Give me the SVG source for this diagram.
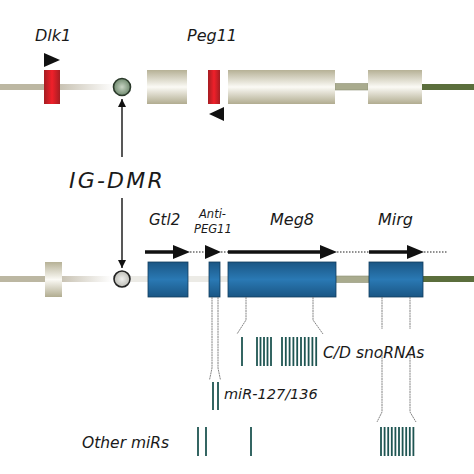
<svg xmlns="http://www.w3.org/2000/svg" width="474" height="474" viewBox="0 0 474 474">
<defs>
<linearGradient id="gray" x1="0" y1="0" x2="0" y2="1">
<stop offset="0" stop-color="#b6b196"/><stop offset="0.5" stop-color="#fbfaf5"/><stop offset="1" stop-color="#b1ac90"/>
</linearGradient>
<linearGradient id="red" x1="0" y1="0" x2="1" y2="0">
<stop offset="0" stop-color="#a51d22"/><stop offset="0.5" stop-color="#f0202a"/><stop offset="1" stop-color="#a51d22"/>
</linearGradient>
<linearGradient id="blue" x1="0" y1="0" x2="0" y2="1">
<stop offset="0" stop-color="#1a5684"/><stop offset="0.5" stop-color="#2a79b4"/><stop offset="1" stop-color="#1a5684"/>
</linearGradient>
<linearGradient id="fadeR" x1="0" y1="0" x2="1" y2="0">
<stop offset="0" stop-color="#c9c3b4"/><stop offset="1" stop-color="#c9c3b4" stop-opacity="0"/>
</linearGradient>
<radialGradient id="dot1"><stop offset="0" stop-color="#c8d4c4"/><stop offset="1" stop-color="#6f8a6e"/></radialGradient>
<radialGradient id="dot2"><stop offset="0" stop-color="#f0f0ee"/><stop offset="1" stop-color="#bdbdb6"/></radialGradient>
<marker id="ah" viewBox="0 0 10 10" refX="10" refY="5" markerWidth="8" markerHeight="10" markerUnits="userSpaceOnUse" orient="auto">
<path d="M0,0 L10,5 L0,10 Z" fill="#111"/>
</marker>
<style>
.lbl{font-family:"DejaVu Sans","Verdana",sans-serif;font-style:italic;fill:#1a1a1a}
.gbox{fill:url(#gray)}
.rbox{fill:url(#red)}
.bbox{fill:url(#blue);stroke:#123e5e;stroke-width:0.8}
.bar{stroke:#1e5552;stroke-width:1.8}
.thin{stroke:#777;stroke-width:0.9;fill:none;stroke-dasharray:2 0.6}
.tri{fill:#111}
.dots{stroke:#222;stroke-width:1.2;stroke-dasharray:1.5 1.5}
.arr{stroke:#111;stroke-width:3.5}
</style>
</defs>
<rect width="474" height="474" fill="#ffffff"/>

<g id="top-track">
<rect x="0" y="84" width="44" height="6" fill="#bcb7a2"/>
<rect x="60" y="84" width="55" height="6" fill="url(#fadeR)"/>
<rect x="335" y="83.5" width="33" height="6.5" fill="#a9ab8e" stroke="#8e9276" stroke-width="0.6"/>
<rect x="422" y="84" width="52" height="6" fill="#5b6e3c"/>
</g>

<g id="dlk1">
<rect class="rbox" x="44" y="70" width="16" height="34"/>
<path class="tri" d="M44,53 L60,60 L44,67 Z"/>
<text class="lbl" x="35" y="41" font-size="16">Dlk1</text>
</g>

<g id="top-gray1"><rect class="gbox" x="147" y="70" width="40" height="34"/></g>

<g id="peg11">
<rect class="rbox" x="208" y="70" width="12" height="34"/>
<path class="tri" d="M224,107 L209,114 L224,121 Z"/>
<text class="lbl" x="187" y="41" font-size="16">Peg11</text>
</g>

<g id="top-gray2"><rect class="gbox" x="228" y="70" width="107" height="34"/></g>
<g id="top-gray3"><rect class="gbox" x="368" y="70" width="54" height="34"/></g>

<g id="top-dmr"><circle cx="122" cy="87" r="8.5" fill="url(#dot1)" stroke="#2b3a2b" stroke-width="1.6"/></g>

<g id="ig-dmr"><text class="lbl" x="69" y="188" font-size="22" letter-spacing="2.2">IG-DMR</text></g>

<g id="bottom-track">
<rect x="0" y="276" width="45" height="6" fill="#bcb7a2"/>
<rect class="gbox" x="45" y="262" width="17" height="35"/>
<rect x="62" y="276" width="50" height="6" fill="url(#fadeR)"/>
<rect x="131" y="276" width="17" height="6" fill="#ecebe6"/>
<rect x="188" y="276" width="21" height="6" fill="#ecebe6"/>
<rect x="220" y="276" width="8" height="6" fill="#ecebe6"/>
<rect x="336" y="276" width="33" height="6.5" fill="#a9ab8e" stroke="#8e9276" stroke-width="0.6"/>
<rect x="423" y="276" width="51" height="6" fill="#5b6e3c"/>
</g>

<g id="bottom-dmr"><circle cx="122" cy="279" r="8" fill="url(#dot2)" stroke="#222" stroke-width="1.6"/></g>

<g id="gtl2">
<rect class="bbox" x="148" y="262" width="40" height="35"/>
<text class="lbl" x="149" y="225" font-size="15">Gtl2</text>
</g>
<g id="anti-peg11">
<rect class="bbox" x="209" y="262" width="11" height="35"/>
<text class="lbl" x="199" y="218" font-size="11.5">Anti-</text>
<text class="lbl" x="194" y="233" font-size="11.5">PEG11</text>
</g>
<g id="meg8">
<rect class="bbox" x="228" y="262" width="108" height="35"/>
<text class="lbl" x="270" y="225" font-size="16">Meg8</text>
</g>
<g id="mirg">
<rect class="bbox" x="369" y="262" width="54" height="35"/>
<text class="lbl" x="378" y="225" font-size="16">Mirg</text>
</g>

<g id="cd-snornas">
<g class="bar">
<line x1="242" y1="337" x2="242" y2="366"/>
<line x1="257" y1="337" x2="257" y2="366"/><line x1="260.5" y1="337" x2="260.5" y2="366"/><line x1="264" y1="337" x2="264" y2="366"/><line x1="267.5" y1="337" x2="267.5" y2="366"/><line x1="271" y1="337" x2="271" y2="366"/>
<line x1="282" y1="337" x2="282" y2="366"/><line x1="285.8" y1="337" x2="285.8" y2="366"/><line x1="289.6" y1="337" x2="289.6" y2="366"/><line x1="293.4" y1="337" x2="293.4" y2="366"/><line x1="297.2" y1="337" x2="297.2" y2="366"/><line x1="301" y1="337" x2="301" y2="366"/><line x1="304.8" y1="337" x2="304.8" y2="366"/><line x1="308.6" y1="337" x2="308.6" y2="366"/><line x1="312.4" y1="337" x2="312.4" y2="366"/><line x1="316.2" y1="337" x2="316.2" y2="366"/>
</g>
<text class="lbl" x="323" y="358" font-size="15.5">C/D snoRNAs</text>
</g>

<g id="mir-127-136">
<line class="bar" x1="213" y1="382" x2="213" y2="410"/>
<line class="bar" x1="218" y1="382" x2="218" y2="410"/>
<text class="lbl" x="224" y="399" font-size="14.5">miR-127/136</text>
</g>

<g id="other-mirs">
<text class="lbl" x="82" y="448" font-size="15.5">Other miRs</text>
<line class="bar" x1="198" y1="427" x2="198" y2="456"/>
<line class="bar" x1="206" y1="427" x2="206" y2="456"/>
<line class="bar" x1="251" y1="427" x2="251" y2="456"/>
</g>

<g id="mirg-cluster" class="bar">
<line x1="381" y1="427" x2="381" y2="456"/><line x1="384.6" y1="427" x2="384.6" y2="456"/><line x1="388.2" y1="427" x2="388.2" y2="456"/><line x1="391.8" y1="427" x2="391.8" y2="456"/><line x1="395.4" y1="427" x2="395.4" y2="456"/><line x1="399" y1="427" x2="399" y2="456"/><line x1="402.6" y1="427" x2="402.6" y2="456"/><line x1="406.2" y1="427" x2="406.2" y2="456"/><line x1="409.8" y1="427" x2="409.8" y2="456"/><line x1="413.4" y1="427" x2="413.4" y2="456"/>
</g>

<g id="connectors">
<line x1="122" y1="157" x2="122" y2="99" stroke="#111" stroke-width="1.4" marker-end="url(#ah)"/>
<line x1="122" y1="198" x2="122" y2="268" stroke="#111" stroke-width="1.4" marker-end="url(#ah)"/>
<line class="arr" x1="145" y1="252" x2="175" y2="252"/><path class="tri" d="M173,245 L190,252 L173,259 Z"/>
<line class="dots" x1="190" y1="252" x2="205" y2="252"/>
<path class="tri" d="M205,245 L221,252 L205,259 Z"/>
<line class="dots" x1="221" y1="252" x2="228" y2="252"/>
<line class="arr" x1="228" y1="252" x2="322" y2="252"/><path class="tri" d="M320,245 L337,252 L320,259 Z"/>
<line class="dots" x1="337" y1="252" x2="369" y2="252"/>
<line class="arr" x1="369" y1="252" x2="409" y2="252"/><path class="tri" d="M407,245 L424,252 L407,259 Z"/>
<line class="dots" x1="424" y1="252" x2="448" y2="252"/>
<path class="thin" d="M212,297 L212,368 L209.5,380"/>
<path class="thin" d="M218,297 L218,368 L220.5,380"/>
<path class="thin" d="M246,297 L246,320 L237,334"/>
<path class="thin" d="M313,297 L313,320 L323,334"/>
<path class="thin" d="M382,297 L382,329 M382,352 L382,412 L377,422"/>
<path class="thin" d="M410,297 L410,329 M410,352 L410,412 L416,422"/>
</g>
</svg>
